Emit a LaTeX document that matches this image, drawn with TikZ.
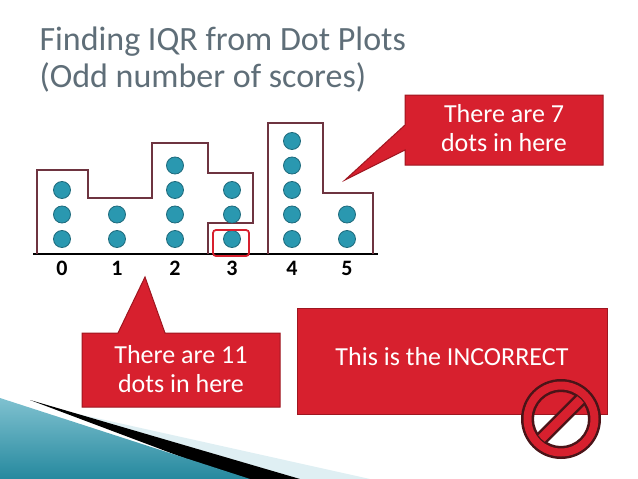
\documentclass[tikz,border=0pt]{standalone}
\usepackage{fontspec}
\setmainfont{Carlito}
\usetikzlibrary{shadings}
\definecolor{dotc}{HTML}{2A98B0}
\definecolor{dotd}{HTML}{1E6A7C}
\definecolor{maro}{HTML}{6E3440}
\definecolor{redb}{HTML}{D7202E}
\definecolor{redd}{HTML}{9E1620}
\definecolor{titc}{HTML}{5F6E78}
\definecolor{sgnd}{HTML}{4A1418}
\tikzset{
  dotm/.style={circle,fill=dotc,draw=dotd,line width=0.8pt,minimum size=17pt,inner sep=0pt},
  outl/.style={draw=maro,line width=2.6pt,line join=miter},
  redbox/.style={fill=redb,draw=redd,line width=1pt},
  lab/.style={font=\fontsize{22}{22}\selectfont\bfseries},
  ctext/.style={text=white,align=center,font=\fontsize{26}{29}\selectfont}
}
\begin{document}
\begin{tikzpicture}[x=1pt,y=-1pt]
\useasboundingbox (0,0) rectangle (638,479);
% bottom decoration
\fill[dotc!15] (60,410) -- (370,479) -- (300,479) -- cycle;
\fill[black] (30,400) -- (300,479) -- (240,479) -- cycle;
\shade[top color=dotc!60, bottom color=dotc!90!black] (0,398) -- (250,479) -- (0,479) -- cycle;
% title
\node[anchor=west,text=titc,font=\fontsize{34}{34}\selectfont] (t1) at (36,42) {Finding IQR from Dot Plots};
\node[anchor=west,text=titc,font=\fontsize{34}{34}\selectfont] (t2) at (36,77) {(Odd number of scores)};
% axis
\coordinate (a0) at (33,254); \coordinate (a1) at (378,254);
\draw[line width=1.6pt] (a0) -- (a1);
% outlines
\draw[outl] (37,254) -- (37,170) -- (88,170) -- (88,198) -- (152,198) -- (152,143) -- (208,143) -- (208,173) -- (253,173) -- (253,223) -- (208,223) -- (208,254);
\draw[outl] (268,254) -- (268,123) -- (323,123) -- (323,193) -- (373,193) -- (373,254);
% dots
\foreach \x/\n [count=\i] in {62/3,117/2,175/4,232/3,292/5,347/2}{
  \foreach \k in {1,...,\n}{
    \node[dotm] (d\i-\k) at (\x,{239-(\k-1)*24.5}) {};
  }
}
\draw[redb,line width=1.8pt,rounded corners=3pt] (213,230) rectangle (249,256);
% labels
\foreach \x/\t in {62/0,117/1,175/2,232/3,292/4,347/5}{
  \node[lab] (l\t) at (\x,268) {\t};
}
% callout top right
\draw[redbox] (405,95) -- (603,95) -- (603,165) -- (405,165) -- (405,150) -- (345,180) -- (405,125) -- cycle;
\node[ctext] (c1) at (504,128) {There are 7\\dots in here};
% callout bottom left
\draw[redbox] (82,333) -- (118,333) -- (145,277) -- (165,333) -- (280,333) -- (280,407) -- (82,407) -- cycle;
\node[ctext] (c2) at (181,369) {There are 11\\dots in here};
% box
\draw[redbox] (297,308) rectangle (607,414);
\node[ctext] (c3) at (452,357) {This is the INCORRECT};
% no symbol
\fill[sgnd,even odd rule] (561,419) circle (40) (561,419) circle (27);
\fill[redb,even odd rule] (561,419) circle (37.5) (561,419) circle (29.5);
\begin{scope}
\clip (561,419) circle (28);
\fill[sgnd,rotate around={45:(561,419)}] (531,412) rectangle (591,426);
\fill[redb,rotate around={45:(561,419)}] (531,414.5) rectangle (591,423.5);
\end{scope}
\end{tikzpicture}
\end{document}
